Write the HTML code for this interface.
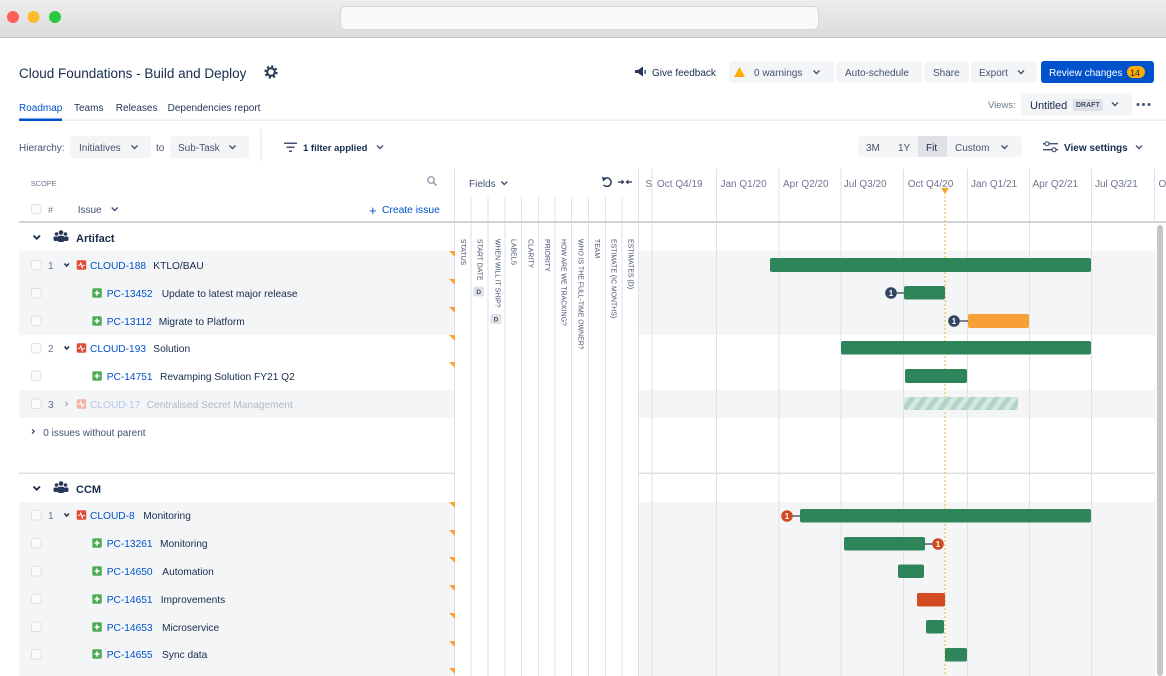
<!DOCTYPE html>
<html><head><meta charset="utf-8">
<style>
*{box-sizing:border-box}
body{margin:0;width:1166px;height:676px;overflow:hidden;position:relative;background:#fff;font-family:"Liberation Sans",Arial,sans-serif;color:#172b4d}
.t{position:absolute;white-space:nowrap;line-height:12px;font-size:10px;margin-top:1.5px}
.k{color:#0052cc;font-size:10.2px}
.s{font-size:10.2px;color:#172b4d}
.g{color:#42526e}
.n{color:#6b778c;font-size:10px}
.h{color:#6b778c;font-size:10px}
.v{position:absolute;writing-mode:vertical-rl;font-size:6.9px;line-height:8px;color:#42526e;white-space:nowrap;top:239px}
</style></head><body>
<svg width="1166" height="676" viewBox="0 0 1166 676" style="position:absolute;left:0;top:0">
<defs>
 <linearGradient id="cg" x1="0" y1="0" x2="0" y2="1"><stop offset="0" stop-color="#ededed"/><stop offset="1" stop-color="#dcdcdc"/></linearGradient>
 <pattern id="hatch" width="12" height="14" patternUnits="userSpaceOnUse" patternTransform="skewX(-35)">
  <rect width="12" height="14" fill="#b2d4c6"/><rect x="6" width="6" height="14" fill="#d3e8df"/>
 </pattern>
</defs>
<!-- chrome -->
<rect width="1166" height="37" fill="url(#cg)"/>
<rect y="37" width="1166" height="1" fill="#c6c6c6"/>
<circle cx="13" cy="17" r="6" fill="#fe5f57"/>
<circle cx="33.5" cy="17" r="6" fill="#febc2e"/>
<circle cx="55" cy="17" r="6" fill="#2ac840"/>
<rect x="340.5" y="6.5" width="478" height="23" rx="5" fill="#fafafa" stroke="#d6d6d6"/>
<!-- gear -->
<circle cx="271" cy="72" r="3.8" fill="none" stroke="#253858" stroke-width="2"/>
<circle cx="271" cy="72" r="5.6" fill="none" stroke="#253858" stroke-width="2" stroke-dasharray="2.2 2.2"/>
<!-- megaphone -->
<path d="M635 70 h3 l5 -3.5 v10 l-5 -3.5 h-3 z" fill="#253858"/>
<rect x="644.5" y="70" width="1.3" height="4" fill="#253858"/>
<!-- top buttons -->
<rect x="729" y="61" width="105" height="22" rx="3" fill="#f4f5f7"/>
<rect x="836" y="61" width="86" height="22" rx="3" fill="#f4f5f7"/>
<rect x="924" y="61" width="45" height="22" rx="3" fill="#f4f5f7"/>
<rect x="971" y="61" width="66" height="22" rx="3" fill="#f4f5f7"/>
<rect x="1041" y="61" width="113" height="22" rx="3" fill="#0052cc"/>
<rect x="1127" y="66" width="18" height="12" rx="6" fill="#ffab00"/>
<path d="M739.5 67 L745 77 L734 77 Z" fill="#ffab00"/>
<polyline points="813.5,70.5 816.5,73.5 819.5,70.5" fill="none" stroke="#42526e" stroke-width="1.4"/>
<polyline points="1018,70.5 1021,73.5 1024,70.5" fill="none" stroke="#42526e" stroke-width="1.4"/>
<!-- tabs -->
<rect x="19" y="119.5" width="1147" height="1.5" fill="#ebecf0"/>
<rect x="19" y="118.5" width="43" height="2.5" fill="#0052cc"/>
<!-- views -->
<rect x="1021" y="93" width="111" height="23" rx="3" fill="#f4f5f7"/>
<rect x="1073" y="99" width="30" height="12" rx="2" fill="#dfe1e6"/>
<polyline points="1112,102.5 1115,105.5 1118,102.5" fill="none" stroke="#42526e" stroke-width="1.4"/>
<circle cx="1138" cy="104.5" r="1.5" fill="#42526e"/>
<circle cx="1143.5" cy="104.5" r="1.5" fill="#42526e"/>
<circle cx="1149" cy="104.5" r="1.5" fill="#42526e"/>
<!-- toolbar -->
<rect x="70" y="136" width="81" height="22" rx="3" fill="#f4f5f7"/>
<rect x="170" y="136" width="79" height="22" rx="3" fill="#f4f5f7"/>
<polyline points="131.5,145.5 134.5,148.5 137.5,145.5" fill="none" stroke="#42526e" stroke-width="1.4"/>
<polyline points="229.5,145.5 232.5,148.5 235.5,145.5" fill="none" stroke="#42526e" stroke-width="1.4"/>
<rect x="260.5" y="129" width="1" height="32" fill="#dfe1e6"/>
<rect x="284" y="142.5" width="13" height="1.5" fill="#42526e"/>
<rect x="286.5" y="146.5" width="8" height="1.5" fill="#42526e"/>
<rect x="289" y="150.5" width="3" height="1.5" fill="#42526e"/>
<polyline points="377,145.5 380,148.5 383,145.5" fill="none" stroke="#42526e" stroke-width="1.4"/>
<rect x="858" y="136" width="164" height="21" rx="3" fill="#f4f5f7"/>
<rect x="918" y="136" width="29" height="21" fill="#dfe1e6"/>
<polyline points="1001.5,145.5 1004.5,148.5 1007.5,145.5" fill="none" stroke="#42526e" stroke-width="1.4"/>
<rect x="1043" y="143" width="15" height="1.4" fill="#42526e"/>
<rect x="1043" y="149" width="15" height="1.4" fill="#42526e"/>
<circle cx="1047" cy="143.7" r="2" fill="#fff" stroke="#42526e" stroke-width="1.2"/>
<circle cx="1054" cy="149.7" r="2" fill="#fff" stroke="#42526e" stroke-width="1.2"/>
<polyline points="1136,145.5 1139,148.5 1142,145.5" fill="none" stroke="#42526e" stroke-width="1.4"/>

<!-- row bands -->
<rect x="19" y="251" width="435" height="84" fill="#f4f5f7"/>
<rect x="638" y="251" width="517" height="84" fill="#f4f5f7"/>
<rect x="19" y="390" width="435" height="28" fill="#f4f5f7"/>
<rect x="638" y="390" width="517" height="28" fill="#f4f5f7"/>
<rect x="19" y="502" width="435" height="174" fill="#f4f5f7"/>
<rect x="638" y="502" width="517" height="174" fill="#f4f5f7"/>
<rect x="19" y="472.5" width="435" height="1.5" fill="#dfe1e6"/>
<rect x="638" y="472.5" width="517" height="1.5" fill="#dfe1e6"/>

<!-- header misc -->
<circle cx="431" cy="180" r="3.3" fill="none" stroke="#8993a4" stroke-width="1.2"/>
<line x1="433.5" y1="182.5" x2="436.5" y2="185.5" stroke="#8993a4" stroke-width="1.3"/>
<rect x="31.5" y="204.5" width="9.5" height="9.5" rx="2" fill="#fafbfc" stroke="#dfe1e6"/>
<polyline points="111.7,207.5 114.7,210.5 117.7,207.5" fill="none" stroke="#42526e" stroke-width="1.4"/>
<polyline points="501.3,181.5 504.3,184.5 507.3,181.5" fill="none" stroke="#42526e" stroke-width="1.4"/>
<path d="M604.5 178.5 A4.3 4.3 0 1 1 603.6 185" fill="none" stroke="#253858" stroke-width="1.5"/>
<path d="M602 176.5 L606.5 178.8 L603 181.5 Z" fill="#253858"/>
<line x1="618" y1="182" x2="622" y2="182" stroke="#253858" stroke-width="1.3"/>
<path d="M621.5 179.5 L624.5 182 L621.5 184.5 Z" fill="#253858"/>
<line x1="628" y1="182" x2="632" y2="182" stroke="#253858" stroke-width="1.3"/>
<path d="M628.5 179.5 L625.5 182 L628.5 184.5 Z" fill="#253858"/>

<!-- vertical lines -->
<g stroke="#dfe1e6" stroke-width="1">
<line x1="454.5" y1="169" x2="454.5" y2="676"/>
<line x1="638.5" y1="169" x2="638.5" y2="676"/>
<line x1="471" y1="197" x2="471" y2="676"/>
<line x1="488" y1="197" x2="488" y2="676"/>
<line x1="505" y1="197" x2="505" y2="676"/>
<line x1="521.5" y1="197" x2="521.5" y2="676"/>
<line x1="538.5" y1="197" x2="538.5" y2="676"/>
<line x1="555" y1="197" x2="555" y2="676"/>
<line x1="571.5" y1="197" x2="571.5" y2="676"/>
<line x1="588.5" y1="197" x2="588.5" y2="676"/>
<line x1="605.5" y1="197" x2="605.5" y2="676"/>
<line x1="622" y1="197" x2="622" y2="676"/>
<line x1="652" y1="169" x2="652" y2="676"/>
<line x1="716.5" y1="169" x2="716.5" y2="676"/>
<line x1="779" y1="169" x2="779" y2="676"/>
<line x1="841" y1="169" x2="841" y2="676"/>
<line x1="903.5" y1="169" x2="903.5" y2="676"/>
<line x1="967.5" y1="169" x2="967.5" y2="676"/>
<line x1="1029.5" y1="169" x2="1029.5" y2="676"/>
<line x1="1091.5" y1="169" x2="1091.5" y2="676"/>
<line x1="1154.5" y1="169" x2="1154.5" y2="222"/>
</g>
<rect x="19" y="221" width="1147" height="2" fill="#d0d4da"/>

<!-- orange markers -->
<g fill="#f7a13a">
<path d="M449 251 H455 V257 Z"/><path d="M449 279 H455 V285 Z"/><path d="M449 307 H455 V313 Z"/>
<path d="M449 335 H455 V341 Z"/><path d="M449 362 H455 V368 Z"/>
<path d="M449 502 H455 V508 Z"/><path d="M449 530 H455 V536 Z"/><path d="M449 557 H455 V563 Z"/>
<path d="M449 585 H455 V591 Z"/><path d="M449 613 H455 V619 Z"/><path d="M449 641 H455 V647 Z"/>
<path d="M449 668 H455 V674 Z"/>
</g>
<!-- D badges -->
<rect x="473.5" y="286.5" width="10.5" height="10" rx="2" fill="#dfe1e6"/>
<rect x="490.5" y="314" width="11" height="10" rx="2" fill="#dfe1e6"/>
<text x="478.7" y="294.2" font-family="Liberation Sans, sans-serif" font-size="6.5" font-weight="bold" fill="#42526e" text-anchor="middle">D</text>
<text x="496" y="321.7" font-family="Liberation Sans, sans-serif" font-size="6.5" font-weight="bold" fill="#42526e" text-anchor="middle">D</text>

<!-- left panel icons -->
<g fill="#253858">
<circle cx="61" cy="232.5" r="2.3"/><circle cx="56.5" cy="234" r="1.8"/><circle cx="65.5" cy="234" r="1.8"/>
<rect x="57.5" y="235.8" width="7" height="6.2" rx="2"/><rect x="53.5" y="236.5" width="4.5" height="4.5" rx="1.5"/><rect x="64" y="236.5" width="4.5" height="4.5" rx="1.5"/>
<circle cx="61" cy="483.5" r="2.3"/><circle cx="56.5" cy="485" r="1.8"/><circle cx="65.5" cy="485" r="1.8"/>
<rect x="57.5" y="486.8" width="7" height="6.2" rx="2"/><rect x="53.5" y="487.5" width="4.5" height="4.5" rx="1.5"/><rect x="64" y="487.5" width="4.5" height="4.5" rx="1.5"/>
</g>
<g fill="none" stroke="#172b4d" stroke-width="1.8">
<polyline points="33.5,235.5 36.7,238.7 40,235.5"/>
<polyline points="33.5,486.5 36.7,489.7 40,486.5"/>
</g>
<g fill="none" stroke="#253858" stroke-width="1.6">
<polyline points="64.5,263.5 66.7,266 69,263.5"/>
<polyline points="64.5,346.5 66.7,349 69,346.5"/>
<polyline points="64.5,513.5 66.7,516 69,513.5"/>
</g>
<polyline points="65.5,401.5 67.5,403.7 65.5,406" fill="none" stroke="#a5adba" stroke-width="1.3"/>
<polyline points="32,429.3 34.2,431.5 32,433.7" fill="none" stroke="#42526e" stroke-width="1.3"/>

<!-- checkboxes -->
<g fill="#fafbfc" stroke="#dfe1e6">
<rect x="31.5" y="260.5" width="9.5" height="9.5" rx="2"/>
<rect x="31.5" y="288.5" width="9.5" height="9.5" rx="2"/>
<rect x="31.5" y="316" width="9.5" height="9.5" rx="2"/>
<rect x="31.5" y="343.5" width="9.5" height="9.5" rx="2"/>
<rect x="31.5" y="371" width="9.5" height="9.5" rx="2"/>
<rect x="31.5" y="399" width="9.5" height="9.5" rx="2"/>
<rect x="31.5" y="510.5" width="9.5" height="9.5" rx="2"/>
<rect x="31.5" y="538.5" width="9.5" height="9.5" rx="2"/>
<rect x="31.5" y="566.5" width="9.5" height="9.5" rx="2"/>
<rect x="31.5" y="594" width="9.5" height="9.5" rx="2"/>
<rect x="31.5" y="622" width="9.5" height="9.5" rx="2"/>
<rect x="31.5" y="649.5" width="9.5" height="9.5" rx="2"/>
</g>

<!-- epic icons -->
<g>
<rect x="76.7" y="260.3" width="9.5" height="9.5" rx="1.5" fill="#e04d36"/>
<polyline points="78,265.3 79.8,265.3 80.8,262.8 82.2,267.8 83.2,265.3 85,265.3" fill="none" stroke="#fff" stroke-width="0.9"/>
<rect x="76.7" y="343.3" width="9.5" height="9.5" rx="1.5" fill="#e04d36"/>
<polyline points="78,348.3 79.8,348.3 80.8,345.8 82.2,350.8 83.2,348.3 85,348.3" fill="none" stroke="#fff" stroke-width="0.9"/>
<rect x="76.7" y="399.3" width="9.5" height="9.5" rx="1.5" fill="#f2b3aa"/>
<polyline points="78,404.3 79.8,404.3 80.8,401.8 82.2,406.8 83.2,404.3 85,404.3" fill="none" stroke="#fff" stroke-width="0.9"/>
<rect x="76.7" y="510.3" width="9.5" height="9.5" rx="1.5" fill="#e04d36"/>
<polyline points="78,515.3 79.8,515.3 80.8,512.8 82.2,517.8 83.2,515.3 85,515.3" fill="none" stroke="#fff" stroke-width="0.9"/>
</g>
<!-- plus icons -->
<g>
<rect x="92.3" y="288.3" width="9.5" height="9.5" rx="1.5" fill="#4fab55"/>
<rect x="92.3" y="316.3" width="9.5" height="9.5" rx="1.5" fill="#4fab55"/>
<rect x="92.3" y="371.3" width="9.5" height="9.5" rx="1.5" fill="#4fab55"/>
<rect x="92.3" y="538.3" width="9.5" height="9.5" rx="1.5" fill="#4fab55"/>
<rect x="92.3" y="566.3" width="9.5" height="9.5" rx="1.5" fill="#4fab55"/>
<rect x="92.3" y="594.3" width="9.5" height="9.5" rx="1.5" fill="#4fab55"/>
<rect x="92.3" y="622.3" width="9.5" height="9.5" rx="1.5" fill="#4fab55"/>
<rect x="92.3" y="649.3" width="9.5" height="9.5" rx="1.5" fill="#4fab55"/>
</g>
<g stroke="#fff" stroke-width="1.5">
<line x1="94.5" y1="293" x2="99.6" y2="293"/><line x1="97" y1="290.5" x2="97" y2="295.6"/>
<line x1="94.5" y1="321" x2="99.6" y2="321"/><line x1="97" y1="318.5" x2="97" y2="323.6"/>
<line x1="94.5" y1="376" x2="99.6" y2="376"/><line x1="97" y1="373.5" x2="97" y2="378.6"/>
<line x1="94.5" y1="543" x2="99.6" y2="543"/><line x1="97" y1="540.5" x2="97" y2="545.6"/>
<line x1="94.5" y1="571" x2="99.6" y2="571"/><line x1="97" y1="568.5" x2="97" y2="573.6"/>
<line x1="94.5" y1="599" x2="99.6" y2="599"/><line x1="97" y1="596.5" x2="97" y2="601.6"/>
<line x1="94.5" y1="627" x2="99.6" y2="627"/><line x1="97" y1="624.5" x2="97" y2="629.6"/>
<line x1="94.5" y1="654" x2="99.6" y2="654"/><line x1="97" y1="651.5" x2="97" y2="656.6"/>
</g>

<!-- today line -->
<line x1="945" y1="192" x2="945" y2="676" stroke="#f0b429" stroke-width="1" stroke-dasharray="2 2"/>
<path d="M941 188 H949 L945 194 Z" fill="#f5a623"/>

<!-- bars -->
<g fill="#2f855a">
<rect x="770" y="258" width="321" height="14" rx="2"/>
<rect x="904" y="286" width="41" height="13.5" rx="2"/>
<rect x="841" y="341" width="250" height="13.5" rx="2"/>
<rect x="905" y="369" width="62" height="14" rx="2"/>
<rect x="800" y="509" width="291" height="13.5" rx="2"/>
<rect x="844" y="537" width="81" height="13.5" rx="2"/>
<rect x="898" y="564.5" width="26" height="13.5" rx="2"/>
<rect x="926" y="620" width="18" height="13.5" rx="2"/>
<rect x="945" y="648" width="22" height="13.5" rx="2"/>
</g>
<rect x="968" y="314" width="61" height="14" rx="2" fill="#f6a035"/>
<rect x="917" y="593" width="28" height="13.5" rx="2" fill="#d24b20"/>
<rect x="904" y="397" width="114" height="13" rx="2" fill="url(#hatch)"/>
<!-- badges -->
<line x1="896" y1="293" x2="904" y2="293" stroke="#344563" stroke-width="1.3"/>
<circle cx="891" cy="293" r="5.8" fill="#344563"/>
<line x1="959" y1="321" x2="968" y2="321" stroke="#344563" stroke-width="1.3"/>
<circle cx="954" cy="321" r="5.8" fill="#344563"/>
<line x1="792" y1="516" x2="800" y2="516" stroke="#344563" stroke-width="1.3"/>
<circle cx="787" cy="516" r="5.8" fill="#d24b20"/>
<line x1="925" y1="544" x2="933" y2="544" stroke="#344563" stroke-width="1.3"/>
<circle cx="938" cy="544" r="5.8" fill="#d24b20"/>
<g font-family="Liberation Sans, sans-serif" font-size="8" font-weight="bold" fill="#fff" text-anchor="middle">
<text x="891" y="296">1</text><text x="954" y="324">1</text><text x="787" y="519">1</text><text x="938" y="547">1</text>
</g>
<!-- scrollbar -->
<rect x="1157" y="225" width="6" height="451" rx="3" fill="#c6c6c6"/>
</svg>

<!-- header texts -->
<div class="t" style="left:19px;top:64px;font-size:13.5px;line-height:16px;color:#172b4d">Cloud Foundations - Build and Deploy</div>
<div class="t" style="left:652px;top:66px;color:#172b4d">Give feedback</div>
<div class="t" style="left:754px;top:66px;color:#42526e">0 warnings</div>
<div class="t" style="left:845px;top:66px;color:#42526e">Auto-schedule</div>
<div class="t" style="left:933px;top:66px;color:#42526e">Share</div>
<div class="t" style="left:979px;top:66px;color:#42526e">Export</div>
<div class="t" style="left:1049px;top:66px;color:#fff">Review changes</div>
<div class="t" style="left:1130px;top:65.5px;font-size:9px;color:#172b4d">14</div>

<div class="t" style="left:19px;top:101px;color:#0052cc">Roadmap</div>
<div class="t" style="left:74px;top:101px;color:#253858">Teams</div>
<div class="t" style="left:115.8px;top:101px;color:#253858">Releases</div>
<div class="t" style="left:167.6px;top:101px;color:#253858">Dependencies report</div>

<div class="t" style="left:988px;top:98px;font-size:9.5px;color:#6b778c">Views:</div>
<div class="t" style="left:1030px;top:98px;font-size:11px;color:#172b4d">Untitled</div>
<div class="t" style="left:1076px;top:98.5px;font-size:7px;font-weight:bold;color:#42526e">DRAFT</div>

<div class="t" style="left:19px;top:141px;color:#42526e">Hierarchy:</div>
<div class="t" style="left:79px;top:141px;color:#42526e">Initiatives</div>
<div class="t" style="left:156px;top:141px;color:#42526e">to</div>
<div class="t" style="left:178px;top:141px;color:#42526e">Sub-Task</div>
<div class="t" style="left:303px;top:141px;font-size:9.5px;font-weight:bold;color:#172b4d">1 filter applied</div>
<div class="t" style="left:866px;top:141px;color:#42526e">3M</div>
<div class="t" style="left:898px;top:141px;color:#42526e">1Y</div>
<div class="t" style="left:926px;top:141px;color:#172b4d">Fit</div>
<div class="t" style="left:955px;top:141px;color:#42526e">Custom</div>
<div class="t" style="left:1064px;top:141px;font-weight:bold;color:#172b4d">View settings</div>

<div class="t" style="left:30.7px;top:176px;font-size:7.4px;color:#6b778c">SCOPE</div>
<div class="t" style="left:48px;top:202px;font-size:9px;color:#6b778c">#</div>
<div class="t" style="left:77.7px;top:203px;color:#42526e">Issue</div>
<div class="t" style="left:369px;top:202px;font-size:13px;line-height:14px;color:#0052cc">+</div>
<div class="t" style="left:382px;top:203px;font-size:10.3px;color:#0052cc">Create issue</div>
<div class="t" style="left:469px;top:177px;color:#42526e">Fields</div>

<div class="t h" style="left:645.4px;top:177px">S</div>
<div class="t h" style="left:657px;top:177px">Oct Q4/19</div>
<div class="t h" style="left:720.5px;top:177px">Jan Q1/20</div>
<div class="t h" style="left:783px;top:177px">Apr Q2/20</div>
<div class="t h" style="left:843.8px;top:177px">Jul Q3/20</div>
<div class="t h" style="left:907.7px;top:177px">Oct Q4/20</div>
<div class="t h" style="left:971px;top:177px">Jan Q1/21</div>
<div class="t h" style="left:1032.5px;top:177px">Apr Q2/21</div>
<div class="t h" style="left:1095px;top:177px">Jul Q3/21</div>
<div class="t h" style="left:1158.5px;top:177px">Oct Q4/21</div>

<!-- vertical field labels -->
<div class="v" style="left:458px">STATUS</div>
<div class="v" style="left:474.7px">START DATE</div>
<div class="v" style="left:492.7px">WHEN WILL IT SHIP?</div>
<div class="v" style="left:508.7px">LABELS</div>
<div class="v" style="left:525.3px">CLARITY</div>
<div class="v" style="left:542px">PRIORITY</div>
<div class="v" style="left:558.7px">HOW ARE WE TRACKING?</div>
<div class="v" style="left:575.3px">WHO IS THE FULL-TIME OWNER?</div>
<div class="v" style="left:592px">TEAM</div>
<div class="v" style="left:608.7px">ESTIMATE (IC MONTHS)</div>
<div class="v" style="left:625.3px">ESTIMATES (D)</div>

<!-- rows -->
<div class="t" style="left:76px;top:231px;font-size:11px;font-weight:bold;color:#172b4d">Artifact</div>

<div class="t n" style="left:48px;top:259px">1</div>
<div class="t k" style="left:90px;top:259px">CLOUD-188</div>
<div class="t s" style="left:153.3px;top:259px">KTLO/BAU</div>

<div class="t k" style="left:106.7px;top:287px">PC-13452</div>
<div class="t s" style="left:161.7px;top:287px">Update to latest major release</div>

<div class="t k" style="left:106.7px;top:315px">PC-13112</div>
<div class="t s" style="left:158.7px;top:315px">Migrate to Platform</div>

<div class="t n" style="left:48px;top:342px">2</div>
<div class="t k" style="left:90px;top:342px">CLOUD-193</div>
<div class="t s" style="left:153.3px;top:342px">Solution</div>

<div class="t k" style="left:106.7px;top:370px">PC-14751</div>
<div class="t s" style="left:160px;top:370px">Revamping Solution FY21 Q2</div>

<div class="t n" style="left:48px;top:398px;color:#5e6c84">3</div>
<div class="t k" style="left:90px;top:398px;color:#b3c6ea">CLOUD-17</div>
<div class="t s" style="left:146.7px;top:398px;color:#b3bac5">Centralised Secret Management</div>

<div class="t" style="left:43.3px;top:426px;color:#42526e">0 issues without parent</div>

<div class="t" style="left:76px;top:482px;font-size:11px;font-weight:bold;color:#172b4d">CCM</div>

<div class="t n" style="left:48px;top:509px">1</div>
<div class="t k" style="left:90px;top:509px">CLOUD-8</div>
<div class="t s" style="left:143.3px;top:509px">Monitoring</div>

<div class="t k" style="left:106.7px;top:537px">PC-13261</div>
<div class="t s" style="left:160px;top:537px">Monitoring</div>

<div class="t k" style="left:106.7px;top:565px">PC-14650</div>
<div class="t s" style="left:162.3px;top:565px">Automation</div>

<div class="t k" style="left:106.7px;top:593px">PC-14651</div>
<div class="t s" style="left:160.7px;top:593px">Improvements</div>

<div class="t k" style="left:106.7px;top:621px">PC-14653</div>
<div class="t s" style="left:162px;top:621px">Microservice</div>

<div class="t k" style="left:106.7px;top:648px">PC-14655</div>
<div class="t s" style="left:162px;top:648px">Sync data</div>
</body></html>
